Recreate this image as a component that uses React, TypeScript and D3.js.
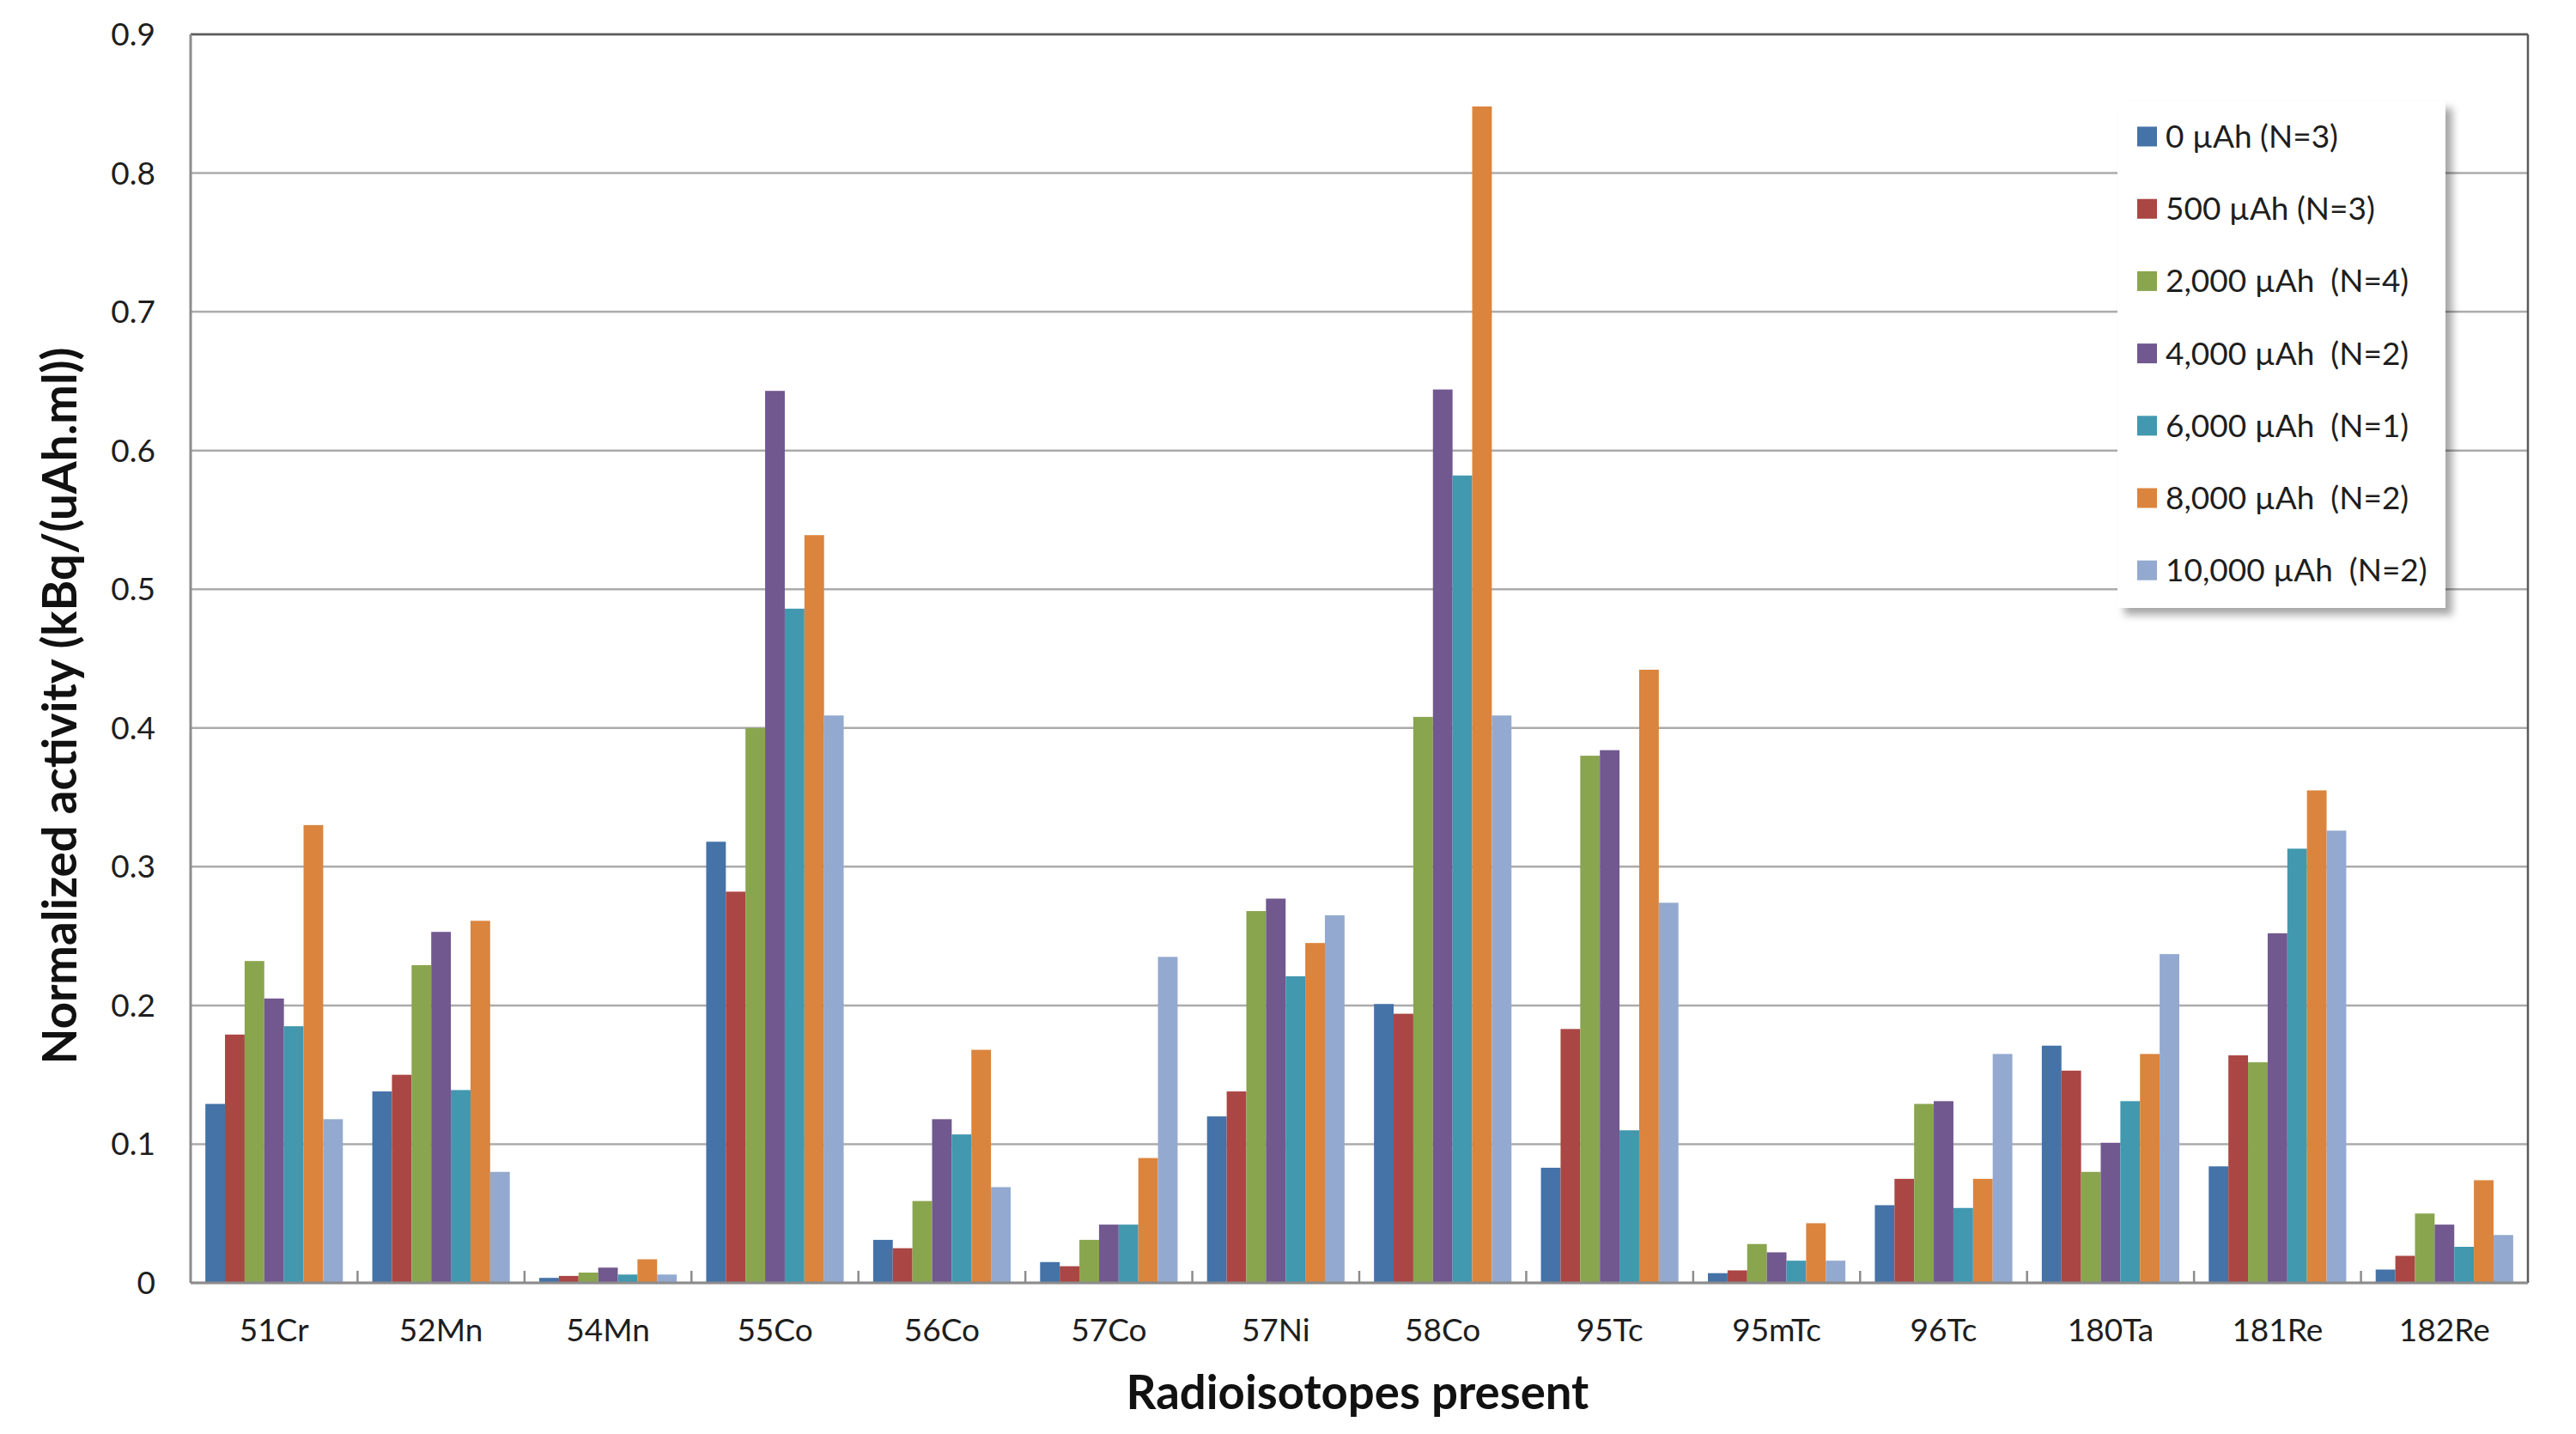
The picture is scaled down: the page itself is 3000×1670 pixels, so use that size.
import React from "react";
import * as d3 from "d3";

const categories = ["51Cr", "52Mn", "54Mn", "55Co", "56Co", "57Co", "57Ni", "58Co", "95Tc", "95mTc", "96Tc", "180Ta", "181Re", "182Re"];

const seriesNames = [
  "0 µAh (N=3)",
  "500 µAh (N=3)",
  "2,000 µAh  (N=4)",
  "4,000 µAh  (N=2)",
  "6,000 µAh  (N=1)",
  "8,000 µAh  (N=2)",
  "10,000 µAh  (N=2)",
];

const s0 = [0.129, 0.138, 0.0036, 0.318, 0.031, 0.015, 0.12, 0.201, 0.083, 0.007, 0.056, 0.171, 0.084, 0.0096];
const s500 = [0.179, 0.15, 0.005, 0.282, 0.025, 0.012, 0.138, 0.194, 0.183, 0.009, 0.075, 0.153, 0.164, 0.0195];
const s2000 = [0.232, 0.229, 0.0074, 0.4, 0.059, 0.031, 0.268, 0.408, 0.38, 0.028, 0.129, 0.08, 0.159, 0.05];
const s4000 = [0.205, 0.253, 0.011, 0.643, 0.118, 0.042, 0.277, 0.644, 0.384, 0.022, 0.131, 0.101, 0.252, 0.042];
const s6000 = [0.185, 0.139, 0.006, 0.486, 0.107, 0.042, 0.221, 0.582, 0.11, 0.016, 0.054, 0.131, 0.313, 0.026];
const s8000 = [0.33, 0.261, 0.017, 0.539, 0.168, 0.09, 0.245, 0.848, 0.442, 0.043, 0.075, 0.165, 0.355, 0.074];
const s10000 = [0.118, 0.08, 0.006, 0.409, 0.069, 0.235, 0.265, 0.409, 0.274, 0.016, 0.165, 0.237, 0.326, 0.0345];

const seriesValues = [s0, s500, s2000, s4000, s6000, s8000, s10000];
const colors = ["#4572A7", "#AA4643", "#89A54E", "#71588F", "#4198AF", "#DB843D", "#93A9CF"];
const yTicks = [0, 0.1, 0.2, 0.3, 0.4, 0.5, 0.6, 0.7, 0.8, 0.9];

const W = 3000;
const H = 1670;
const left = 222;
const right = 2944;
const top = 40;
const bottom = 1494;

export default function App() {
  const x = d3.scaleBand<string>().domain(categories).range([left, right]).paddingInner(0).paddingOuter(0);
  const y = d3.scaleLinear().domain([0, 0.9]).range([bottom, top]);
  const bw = x.bandwidth();
  const barW = bw / 8.5;
  const inner = d3.scaleBand<number>().domain(d3.range(7)).range([(bw * 0.75) / 8.5, bw - (bw * 0.75) / 8.5]);
  const font = "Lato, 'Open Sans', sans-serif";

  const legX = 2466;
  const legY = 118;
  const legW = 382;
  const legH = 590;

  return (
    <svg width={W} height={H} style={{ position: "absolute", left: 0, top: 0, background: "#fff" }} fontFamily={font}>
      <defs>
        <filter id="shadow" x="-10%" y="-10%" width="130%" height="130%">
          <feDropShadow dx="8" dy="8" stdDeviation="5" floodColor="#000" floodOpacity="0.35" />
        </filter>
      </defs>
      <rect x={0} y={0} width={W} height={H} fill="#fff" />
      {/* gridlines */}
      {yTicks.map((t) => (
        <line key={t} x1={left} x2={right} y1={y(t)} y2={y(t)} stroke="#ababab" strokeWidth={2.5} />
      ))}
      {/* bars */}
      {categories.map((c, ci) => (
        <g key={c}>
          {seriesValues.map((vals, si) => (
            <rect
              key={si}
              x={(x(c) as number) + (inner(si) as number)}
              y={y(vals[ci])}
              width={barW}
              height={bottom - y(vals[ci])}
              fill={colors[si]}
            />
          ))}
        </g>
      ))}
      {/* plot borders */}
      <line x1={left} x2={right} y1={top} y2={top} stroke="#5a5a5a" strokeWidth={2.5} />
      <line x1={right} x2={right} y1={top} y2={bottom} stroke="#5a5a5a" strokeWidth={2.5} />
      <line x1={left} x2={left} y1={top} y2={bottom} stroke="#8c8c8c" strokeWidth={3} />
      <line x1={left} x2={right} y1={bottom} y2={bottom} stroke="#8c8c8c" strokeWidth={3} />
      {/* category ticks */}
      {categories.slice(1).map((c) => (
        <line key={c} x1={x(c) as number} x2={x(c) as number} y1={bottom} y2={bottom - 14} stroke="#8c8c8c" strokeWidth={2.5} />
      ))}
      {/* y tick labels */}
      {yTicks.map((t) => (
        <text key={t} x={181} y={y(t) + 13} textAnchor="end" fontSize={37} fill="#1e1e1e">
          {t === 0 ? "0" : d3.format(".1f")(t)}
        </text>
      ))}
      {/* x tick labels */}
      {categories.map((c) => (
        <text key={c} x={(x(c) as number) + bw / 2} y={1562} textAnchor="middle" fontSize={37} fill="#1e1e1e">
          {c}
        </text>
      ))}
      {/* axis titles */}
      <text x={1581} y={1641} textAnchor="middle" fontSize={54.5} fontWeight="bold" fill="#111">
        Radioisotopes present
      </text>
      <text
        transform={`translate(${89},${822}) rotate(-90)`}
        textAnchor="middle"
        fontSize={54.5}
        fontWeight="bold"
        fill="#111"
      >
        Normalized activity (kBq/(uAh.ml))
      </text>
      {/* legend */}
      <rect x={legX} y={legY} width={legW} height={legH} fill="#fff" filter="url(#shadow)" />
      {seriesNames.map((n, i) => (
        <g key={n}>
          <rect x={2489} y={159 + 84.2 * i - 11.5} width={23} height={23} fill={colors[i]} />
          <text x={2522} y={159 + 84.2 * i + 13} fontSize={37} fill="#1e1e1e" style={{ whiteSpace: "pre" }}>
            {n}
          </text>
        </g>
      ))}
    </svg>
  );
}
